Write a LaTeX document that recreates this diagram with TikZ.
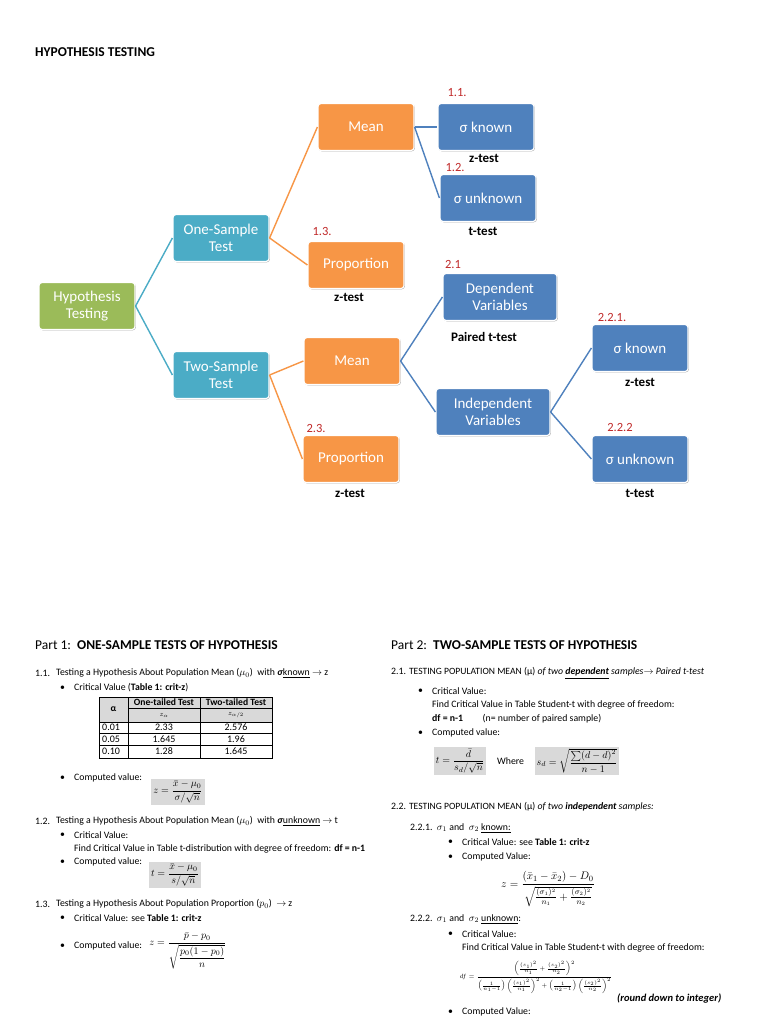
\documentclass[tikz,border=0pt]{standalone}
\usepackage{amsmath}
\usepackage{fontspec}
\setmainfont{Carlito}
\usetikzlibrary{shadows}
\definecolor{cgreen}{RGB}{155,187,89}
\definecolor{ccyan}{RGB}{75,172,198}
\definecolor{corange}{RGB}{247,150,70}
\definecolor{cblue}{RGB}{79,129,189}
\definecolor{cred}{RGB}{192,40,40}
\definecolor{fgray}{RGB}{217,217,217}
\tikzset{
  sbox/.style={rounded corners=3pt, draw=white, line width=1.2pt, minimum width=96pt, minimum height=47pt,
    text=white, align=center, font=\fontsize{15}{17}\selectfont, inner sep=2pt,
    drop shadow={shadow xshift=0.8pt, shadow yshift=-0.8pt, opacity=0.35, fill=black}},
  lab/.style={font=\bfseries\fontsize{13}{14}\selectfont, inner sep=0pt},
  num/.style={text=cred, font=\fontsize{12.5}{14}\selectfont, inner sep=0pt},
  con/.style={line width=1.4pt},
  txt/.style={anchor=west, inner sep=0pt, font=\fontsize{9.8}{11}\selectfont},
  hdr/.style={anchor=west, inner sep=0pt, font=\fontsize{13.5}{15}\selectfont},
  fml/.style={inner sep=2pt, font=\fontsize{9.8}{11}\selectfont},
  gbox/.style={fml, fill=fgray},
  cell/.style={inner sep=0pt, font=\fontsize{10}{11}\selectfont},
  cellh/.style={inner sep=0pt, font=\bfseries\fontsize{9.6}{11}\selectfont},
}
\begin{document}
\begin{tikzpicture}[x=1pt,y=-1pt]
\useasboundingbox[fill=white] (0,0) rectangle (768,1024);
\node[anchor=west, inner sep=0pt, font=\bfseries\fontsize{13.5}{15}\selectfont] (title) at (35,52) {HYPOTHESIS TESTING};

% ---- diagram nodes
\node[sbox, fill=cgreen] (hyp) at (87,306) {Hypothesis\\Testing};
\node[sbox, fill=ccyan] (one) at (221,238) {One-Sample\\Test};
\node[sbox, fill=ccyan] (two) at (221,375) {Two-Sample\\Test};
\node[sbox, fill=corange] (meanA) at (366,127) {Mean};
\node[sbox, fill=corange] (propA) at (356,265) {Proportion};
\node[sbox, fill=cblue] (skA) at (486,127) {σ known};
\node[sbox, fill=cblue] (suA) at (488,198) {σ unknown};
\node[sbox, fill=corange] (meanB) at (352,361) {Mean};
\node[sbox, fill=corange] (propB) at (351,459) {Proportion};
\node[sbox, fill=cblue, minimum width=114pt] (dep) at (500,297) {Dependent\\Variables};
\node[sbox, fill=cblue, minimum width=114pt] (ind) at (493,412) {Independent\\Variables};
\node[sbox, fill=cblue] (skB) at (640,348) {σ known};
\node[sbox, fill=cblue] (suB) at (640,459) {σ unknown};

% ---- connectors
\draw[con, ccyan] (hyp.east) -- (one.west);
\draw[con, ccyan] (hyp.east) -- (two.west);
\draw[con, corange] (one.east) -- (meanA.west);
\draw[con, corange] (one.east) -- (propA.west);
\draw[con, corange] (two.east) -- (meanB.west);
\draw[con, corange] (two.east) -- (propB.west);
\draw[con, cblue] (meanA.east) -- (skA.west);
\draw[con, cblue] (meanA.east) -- (suA.west);
\draw[con, cblue] (meanB.east) -- (dep.west);
\draw[con, cblue] (meanB.east) -- (ind.west);
\draw[con, cblue] (ind.east) -- (skB.west);
\draw[con, cblue] (ind.east) -- (suB.west);

% ---- labels
\node[num] (l11) at (457,93) {1.1.};
\node[lab] (zA) at (484,158) {z-test};
\node[num] (l12) at (455,167) {1.2.};
\node[lab] (tA) at (483,231) {t-test};
\node[num] (l13) at (322,231) {1.3.};
\node[lab] (zP) at (349,297) {z-test};
\node[num] (l21) at (453,264) {2.1};
\node[lab] (pt) at (484,337) {Paired t-test};
\node[num] (l221) at (612,317) {2.2.1.};
\node[lab] (zB) at (640,382) {z-test};
\node[num] (l222) at (620,427) {2.2.2};
\node[lab] (tB) at (640,493) {t-test};
\node[num] (l23) at (316,428) {2.3.};
\node[lab] (zP2) at (350,493) {z-test};

% ---- Part 1
\node[hdr] (p1) at (35,645) {Part 1:\ \ \textbf{ONE-SAMPLE TESTS OF HYPOTHESIS}};
\node[txt] (n11) at (35,673) {1.1.};
\node[txt] (t11) at (56,673) {Testing a Hypothesis About Population Mean ($\mu_0$) \ with \textbf{\textit{σ}}\underline{known} $\rightarrow$ z};
\node[txt] (b11a) at (60,688) {•};
\node[txt] (c11a) at (74,688) {Critical Value (\textbf{Table 1: crit-z})};
% table
\fill[fgray] (99,697) rectangle (272,722);
\draw[line width=0.6pt] (99,697) rectangle (272,758);
\draw[line width=0.6pt] (128,697) -- (128,758) (200,697) -- (200,758);
\draw[line width=0.6pt] (128,708) -- (272,708) (99,722) -- (272,722) (99,733) -- (272,733) (99,745) -- (272,745);
\node[cellh] (ta) at (113.5,709.5) {α};
\node[cellh] (th1) at (164,702.5) {One-tailed Test};
\node[cellh] (th2) at (236,702.5) {Two-tailed Test};
\node[cell] (tz1) at (164,715) {$\scriptstyle z_\alpha$};
\node[cell] (tz2) at (236,715) {$\scriptstyle z_{\alpha/2}$};
\node[cell, anchor=west] (r1a) at (102,727.5) {0.01};
\node[cell] (r1b) at (164,727.5) {2.33};
\node[cell] (r1c) at (236,727.5) {2.576};
\node[cell, anchor=west] (r2a) at (102,739.5) {0.05};
\node[cell] (r2b) at (164,739.5) {1.645};
\node[cell] (r2c) at (236,739.5) {1.96};
\node[cell, anchor=west] (r3a) at (102,751.5) {0.10};
\node[cell] (r3b) at (164,751.5) {1.28};
\node[cell] (r3c) at (236,751.5) {1.645};
\node[txt] (b11b) at (60,778) {•};
\node[txt] (c11b) at (74,778) {Computed value:};
\node[gbox] (f11) at (178,792) {$z=\dfrac{\bar{x}-\mu_0}{\sigma/\sqrt{n}}$};

\node[txt] (n12) at (35,821) {1.2.};
\node[txt] (t12) at (56,821) {Testing a Hypothesis About Population Mean ($\mu_0$) \ with \textbf{\textit{σ}}\underline{unknown} $\rightarrow$ t};
\node[txt] (b12a) at (60,835) {•};
\node[txt] (c12a) at (74,835) {Critical Value:};
\node[txt] (c12b) at (74,849) {Find Critical Value in Table t-distribution with degree of freedom: \textbf{df = n-1}};
\node[txt] (b12b) at (60,862) {•};
\node[txt] (c12c) at (74,862) {Computed value:};
\node[gbox] (f12) at (175,875) {$t=\dfrac{\bar{x}-\mu_0}{s/\sqrt{n}}$};

\node[txt] (n13) at (35,904) {1.3.};
\node[txt] (t13) at (56,904) {Testing a Hypothesis About Population Proportion ($p_0$) \ $\rightarrow$ z};
\node[txt] (b13a) at (60,918) {•};
\node[txt] (c13a) at (74,918) {Critical Value: see \textbf{Table 1: crit-z}};
\node[txt] (b13b) at (60,946) {•};
\node[txt] (c13b) at (74,946) {Computed value:};
\node[fml] (f13) at (188,951) {$z=\dfrac{\bar{p}-p_0}{\sqrt{\dfrac{p_0(1-p_0)}{n}}}$};

% ---- Part 2
\node[hdr] (p2) at (391,645) {Part 2:\ \ \textbf{TWO-SAMPLE TESTS OF HYPOTHESIS}};
\node[txt] (t21) at (391,673) {2.1. {\fontsize{9.6}{10}\selectfont TESTING POPULATION MEAN} (μ) \textit{of two \textbf{\underline{dependent}} samples}$\rightarrow$ \textit{Paired t-test}};
\node[txt] (b21a) at (418,691) {•};
\node[txt] (c21a) at (432,691) {Critical Value:};
\node[txt] (c21b) at (432,705) {Find Critical Value in Table Student-t with degree of freedom:};
\node[txt] (c21c) at (432,719) {\textbf{df = n-1}\qquad(n= number of paired sample)};
\node[txt] (b21b) at (418,733) {•};
\node[txt] (c21d) at (432,733) {Computed value:};
\node[gbox] (f21a) at (460,761) {$t=\dfrac{\bar{d}}{s_d/\sqrt{n}}$};
\node[txt] (wh) at (497,761) {Where};
\node[gbox] (f21b) at (577,761) {$s_d=\sqrt{\dfrac{\sum(d-\bar{d})^2}{n-1}}$};

\node[txt] (t22) at (391,807) {2.2. {\fontsize{9.6}{10}\selectfont TESTING POPULATION MEAN} (μ) \textit{of two \textbf{independent} samples:}};
\node[txt] (t221) at (410,828) {2.2.1.\ \ $\sigma_1$ and \ $\sigma_2$ \underline{known:}};
\node[txt] (b221a) at (448,842) {•};
\node[txt] (c221a) at (462,842) {Critical Value: see \textbf{Table 1: crit-z}};
\node[txt] (b221b) at (448,857) {•};
\node[txt] (c221b) at (462,857) {Computed Value:};
\node[fml, font=\fontsize{11}{13}\selectfont] (f221) at (548,889) {$z=\dfrac{(\bar{x}_1-\bar{x}_2)-D_0}{\sqrt{\frac{(\sigma_1)^2}{n_1}+\frac{(\sigma_2)^2}{n_2}}}$};

\node[txt] (t222) at (410,919) {2.2.2.\ \ $\sigma_1$ and \ $\sigma_2$ \underline{unknown}:};
\node[txt] (b222a) at (448,934) {•};
\node[txt] (c222a) at (462,934) {Critical Value:};
\node[txt] (c222b) at (462,948) {Find Critical Value in Table Student-t with degree of freedom:};
\node[fml, font=\fontsize{6}{7}\selectfont] (f222) at (536,977) {$df=\dfrac{\left(\frac{(s_1)^2}{n_1}+\frac{(s_2)^2}{n_2}\right)^2}{\left(\frac{1}{n_1-1}\right)\left(\frac{(s_1)^2}{n_1}\right)^2+\left(\frac{1}{n_2-1}\right)\left(\frac{(s_2)^2}{n_2}\right)^2}$};
\node[txt, font=\bfseries\itshape\fontsize{10.5}{12}\selectfont] (rd) at (617,998) {(round down to integer)};
\node[txt] (b222b) at (448,1012) {•};
\node[txt] (c222c) at (462,1012) {Computed Value:};
\end{tikzpicture}
\end{document}
